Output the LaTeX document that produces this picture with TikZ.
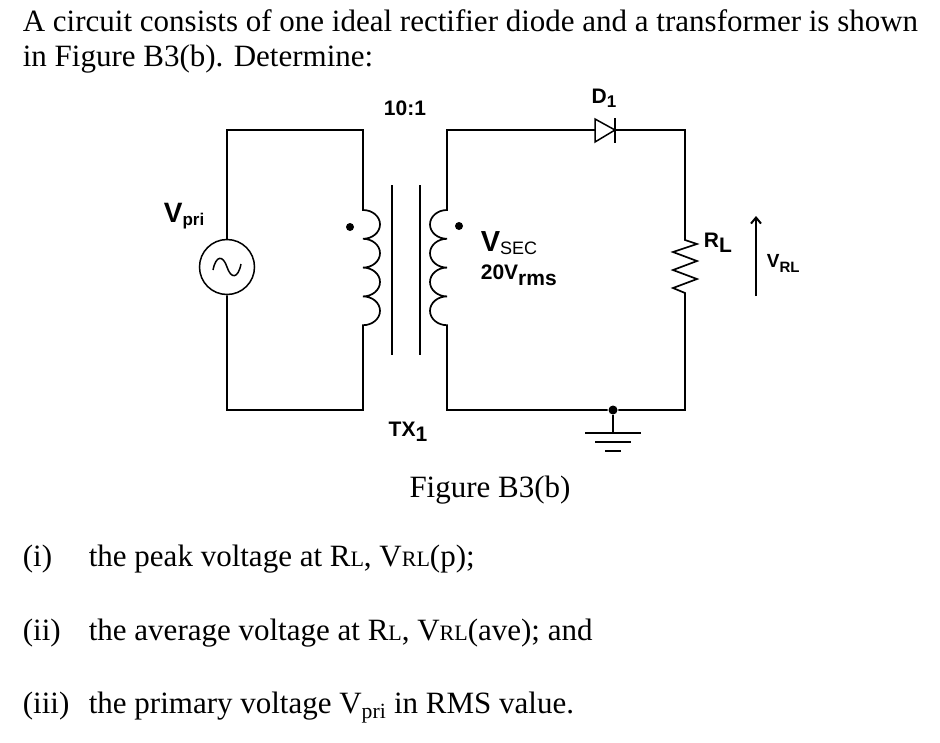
\documentclass[tikz,border=0pt]{standalone}
\usepackage{fontspec}
\setmainfont{Liberation Serif}
\newfontfamily\arialf{Liberation Sans}
\usetikzlibrary{arrows.meta}
\newcommand{\smc}[1]{{\fontsize{22}{24}\selectfont #1}}
\begin{document}
\begin{tikzpicture}[x=1pt,y=-1pt,line width=1.7pt,
  txt/.style={anchor=west,inner sep=0,font=\fontsize{31}{34}\selectfont},
  lab/.style={inner sep=0,font=\arialf\bfseries\fontsize{21}{23}\selectfont},
  wire/.style={line width=1.7pt,line join=miter}]
\useasboundingbox (0,0) rectangle (940,742);
\node[txt,anchor=base west] (l1) at (22,31) {A circuit consists of one ideal rectifier diode and a transformer is shown};
\node[txt,anchor=base west] (l2) at (22,66) {in Figure B3(b). Determine:};
\node[txt,anchor=base] (fig) at (490,497) {Figure B3(b)};
\node[txt,anchor=base west] (q1) at (22,566) {\makebox[66pt][l]{(i)}the peak voltage at R\smc{L}, V\smc{RL}(p);};
\node[txt,anchor=base west] (q2) at (22,640) {\makebox[66pt][l]{(ii)}the average voltage at R\smc{L}, V\smc{RL}(ave); and};
\node[txt,anchor=base west] (q3) at (22,713) {\makebox[66pt][l]{(iii)}the primary voltage V\textsubscript{pri} in RMS value.};
% source
\node[draw,circle,minimum size=55pt,inner sep=0,line width=1.5pt] (src) at (227,267) {};
\draw[line width=1.5pt] (213,270) .. controls (216,255) and (223,255) .. (227,267) .. controls (231,279) and (238,279) .. (241,264);
\coordinate (pTL) at (227,130); \coordinate (pTR) at (363,130);
\coordinate (pBL) at (227,410); \coordinate (pBR) at (363,410);
\draw[wire] (src.north) -- (pTL) -- (pTR) -- (363,210)
  arc[start angle=-90,end angle=90,x radius=17,y radius=14.4]
  arc[start angle=-90,end angle=90,x radius=17,y radius=14.4]
  arc[start angle=-90,end angle=90,x radius=17,y radius=14.4]
  arc[start angle=-90,end angle=90,x radius=17,y radius=14.4]
  -- (pBR) -- (pBL) -- (src.south);
% core
\draw (392,185) -- (392,355); \draw (420,185) -- (420,355);
% secondary
\coordinate (sTL) at (447,130); \coordinate (sBL) at (447,410);
\coordinate (dA) at (595,130); \coordinate (dK) at (615,130);
\coordinate (rTR) at (685,130); \coordinate (rBR) at (685,410);
\node[fill,circle,inner sep=0,minimum size=9pt] (gnd) at (613,410) {};
\draw[wire] (dA) -- (sTL) -- (447,210)
  arc[start angle=-90,end angle=-270,x radius=17,y radius=14.4]
  arc[start angle=-90,end angle=-270,x radius=17,y radius=14.4]
  arc[start angle=-90,end angle=-270,x radius=17,y radius=14.4]
  arc[start angle=-90,end angle=-270,x radius=17,y radius=14.4]
  -- (sBL) -- (gnd) -- (rBR) -- (685,293)
  -- (673,288) -- (697,279) -- (673,270) -- (697,261) -- (673,252) -- (697,244) -- (685,240)
  -- (rTR) -- (dK);
% diode
\draw[line width=1.5pt] (dA) -- (595,119) -- (615,130) -- (595,142) -- cycle;
\draw[line width=1.7pt] (615,118) -- (615,143);
% ground
\draw (gnd) -- (613,433);
\draw (585,433) -- (641,433); \draw (595,442) -- (631,442); \draw (605,451) -- (621,451);
% dots
\node[fill,circle,inner sep=0,minimum size=8pt] (d1) at (350,227) {};
\node[fill,circle,inner sep=0,minimum size=8pt] (d2) at (459,226) {};
% arrow
\coordinate (aB) at (756,296); \coordinate (aT) at (756,216);
\draw[line width=2pt,-{Straight Barb[length=6pt,width=10pt]}] (aB) -- (aT);
% labels
\node[lab] (t10) at (405,108) {10:1};
\node[lab] (tD) at (604,98) {D\raisebox{-4pt}{\fontsize{17}{18}\selectfont 1}};
\node[lab] (tTX) at (408,432) {TX\raisebox{-5pt}{1}};
\node[lab,anchor=west] (tvp) at (163,216) {\fontsize{28}{30}\selectfont V\fontsize{17}{18}\selectfont\raisebox{-3pt}{pri}};
\node[lab,anchor=west] (tvs) at (480,243) {\fontsize{29}{30}\selectfont V\fontsize{18}{19}\selectfont\raisebox{-3pt}{\mdseries SEC}};
\node[lab,anchor=west] (t20) at (480,275) {20V\raisebox{-6pt}{rms}};
\node[lab,anchor=west] (tRL) at (703,243) {R\raisebox{-5pt}{L}};
\node[lab,anchor=west] (tVRL) at (766,263) {\fontsize{19}{20}\selectfont V\fontsize{15}{16}\selectfont\raisebox{-5pt}{RL}};
\end{tikzpicture}
\end{document}
